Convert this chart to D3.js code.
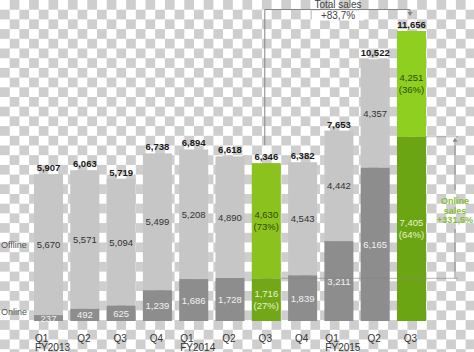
<!DOCTYPE html>
<html>
<head>
<meta charset="utf-8">
<script src="https://cdn.jsdelivr.net/npm/d3@7"></script>
<style>
    body { margin: 0; }
    svg { display: block; font-family: "Liberation Sans", Arial, sans-serif; }
</style>
</head>
<body>
<div id="chart"></div>
<script>
const quarters = ['Q1', 'Q2', 'Q3', 'Q4', 'Q1', 'Q2', 'Q3', 'Q4', 'Q1', 'Q2', 'Q3']
const years = ['FY2013', '', '', '', 'FY2014', '', '', '', 'FY2015', '', '']
const online = [237, 492, 625, 1239, 1686, 1728, 1716, 1839, 3211, 6165, 7405]
const offline = [5670, 5571, 5094, 5499, 5208, 4890, 4630, 4543, 4442, 4357, 4251]
const highlight = [6, 10]   // the Q3 bars drawn in green
const totalGrowth = ['Total sales', '+83,7%']
const onlineGrowth = ['Online', 'sales', '+331,5%']

function draw() {
    const width = 474
    const height = 352

    const fmt = d3.format(',')
    const totals = online.map((d, i) => d + offline[i])

    const svg = d3.select('#chart')
        .append('svg')
        .attr('width', width)
        .attr('height', height)

    // checkerboard behind the chart (transparent png look)
    const sq = 9.7
    const pattern = svg.append('defs').append('pattern')
        .attr('id', 'checker')
        .attr('patternUnits', 'userSpaceOnUse')
        .attr('width', sq * 2)
        .attr('height', sq * 2)
    pattern.append('rect').attr('width', sq * 2).attr('height', sq * 2).attr('fill', '#fff')
    pattern.append('rect').attr('x', sq).attr('width', sq).attr('height', sq).attr('fill', '#cecece')
    pattern.append('rect').attr('y', sq).attr('width', sq).attr('height', sq).attr('fill', '#cecece')
    svg.append('rect').attr('width', width).attr('height', height).attr('fill', 'url(#checker)')

    const xScale = d3.scaleBand()
        .domain(d3.range(quarters.length))
        .range([34, 426])
        .paddingInner(0.2)

    const yScale = d3.scaleLinear()
        .domain([0, d3.max(totals)])
        .range([321, 31])

    const isGreen = i => highlight.includes(i)
    const offColor = i => i === 6 ? '#8cc21e' : i === 10 ? '#8fcf1f' : '#c6c6c6'
    const onColor = i => i === 6 ? '#72a817' : i === 10 ? '#6ca514' : '#8d8d8d'

    const bars = svg.append('g')
        .selectAll('g')
        .data(quarters)
        .join('g')

    bars.append('rect')
        .attr('x', (d, i) => xScale(i))
        .attr('y', (d, i) => yScale(totals[i]))
        .attr('width', xScale.bandwidth())
        .attr('height', (d, i) => yScale(online[i]) - yScale(totals[i]))
        .attr('fill', (d, i) => offColor(i))

    bars.append('rect')
        .attr('x', (d, i) => xScale(i))
        .attr('y', (d, i) => yScale(online[i]))
        .attr('width', xScale.bandwidth())
        .attr('height', (d, i) => yScale(0) - yScale(online[i]))
        .attr('fill', (d, i) => onColor(i))

    const cx = i => xScale(i) + xScale.bandwidth() / 2

    // totals on top
    bars.append('text')
        .attr('x', (d, i) => cx(i))
        .attr('y', (d, i) => yScale(totals[i]) - 3)
        .attr('text-anchor', 'middle')
        .attr('font-size', 9.5)
        .attr('font-weight', 'bold')
        .attr('fill', '#1a1a1a')
        .text((d, i) => fmt(totals[i]))

    // segment values
    bars.each(function (d, i) {
        const g = d3.select(this)
        const offMid = (yScale(totals[i]) + yScale(online[i])) / 2
        const onMid = (yScale(online[i]) + yScale(0)) / 2
        if (isGreen(i)) {
            const offPct = '(' + Math.round(offline[i] / totals[i] * 100) + '%)'
            const onPct = '(' + Math.round(online[i] / totals[i] * 100) + '%)'
            g.append('text').attr('x', cx(i)).attr('y', offMid - 2.5).text(fmt(offline[i]))
                .attr('fill', '#2f4a05')
            g.append('text').attr('x', cx(i)).attr('y', offMid + 9.5).text(offPct)
                .attr('fill', '#2f4a05')
            g.append('text').attr('x', cx(i)).attr('y', onMid - 2.5).text(fmt(online[i]))
                .attr('fill', '#e6f2d0')
            g.append('text').attr('x', cx(i)).attr('y', onMid + 9.5).text(onPct)
                .attr('fill', '#e6f2d0')
        } else {
            g.append('text').attr('x', cx(i)).attr('y', offMid + 3.5).text(fmt(offline[i]))
                .attr('fill', '#333')
            g.append('text').attr('x', cx(i)).attr('y', onMid + 3.5).text(fmt(online[i]))
                .attr('fill', '#f2f2f2')
        }
        g.selectAll('text:not([font-weight])')
            .attr('text-anchor', 'middle')
            .attr('font-size', 9.5)
    })

    // quarter and year labels
    svg.append('g')
        .selectAll('text')
        .data(quarters)
        .join('text')
        .attr('x', (d, i) => years[i] ? xScale(i) + 1 : cx(i) - 1)
        .attr('y', 341.5)
        .attr('text-anchor', (d, i) => years[i] ? 'start' : 'middle')
        .attr('font-size', 10)
        .attr('fill', '#333')
        .text(d => d)

    svg.append('g')
        .selectAll('text')
        .data(years.filter(d => d))
        .join('text')
        .attr('x', d => xScale(years.indexOf(d)) + 1)
        .attr('y', 351)
        .attr('font-size', 10)
        .attr('fill', '#333')
        .text(d => d)

    // row labels on the left
    svg.append('text').attr('x', 1).attr('y', yScale((online[0] + totals[0]) / 2) + 3.5)
        .attr('font-size', 9).attr('fill', '#555').text('Offline')
    svg.append('text').attr('x', 1).attr('y', 315)
        .attr('font-size', 9).attr('fill', '#555').text('Online')

    // total sales bracket
    const a = 6, b = 10
    const ann = svg.append('g').attr('stroke', '#858585').attr('fill', 'none').attr('stroke-width', 1)
    ann.append('path')
        .attr('d', `M${cx(a) - 1.5},${yScale(totals[a]) - 18}V9.5H${cx(b) - 1.5}V13`)
    svg.append('path')
        .attr('d', `M${cx(b) - 4},12L${cx(b) - 1.5},16L${cx(b) + 1},12Z`)
        .attr('fill', '#858585')

    svg.append('rect').attr('x', 312).attr('y', 10.5).attr('width', 52).attr('height', 10).attr('fill', '#fff')
    svg.append('text').attr('x', 338).attr('y', 8).attr('text-anchor', 'middle')
        .attr('font-size', 10).attr('fill', '#444').text(totalGrowth[0])
    svg.append('text').attr('x', 338).attr('y', 19).attr('text-anchor', 'middle')
        .attr('font-size', 10).attr('fill', '#444').text(totalGrowth[1])

    // online sales growth marker
    const gx = 455
    ann.append('path')
        .attr('d', `M${xScale(b) + xScale.bandwidth()},${yScale(online[b])}H${gx + 3}`)
        .attr('stroke-opacity', 0.5)
    ann.append('path')
        .attr('d', `M${xScale(a) + xScale.bandwidth()},${yScale(online[a])}H${gx + 3}`)
        .attr('stroke-opacity', 0.6)
    ann.append('path').attr('d', `M${gx},${yScale(online[b]) + 3}V190`)
    ann.append('path').attr('d', `M${gx},229V${yScale(online[a])}`)
    svg.append('path')
        .attr('d', `M${gx - 2.5},${yScale(online[b]) + 5}L${gx},${yScale(online[b]) + 1}L${gx + 2.5},${yScale(online[b]) + 5}Z`)
        .attr('fill', '#858585')

    svg.append('g')
        .selectAll('text')
        .data(onlineGrowth)
        .join('text')
        .attr('x', gx)
        .attr('y', (d, i) => 204 + i * 9.7)
        .attr('text-anchor', 'middle')
        .attr('font-size', 9)
        .attr('font-weight', 'bold')
        .attr('fill', '#86bd35')
        .text(d => d)
}

draw()
</script>
</body>
</html>
